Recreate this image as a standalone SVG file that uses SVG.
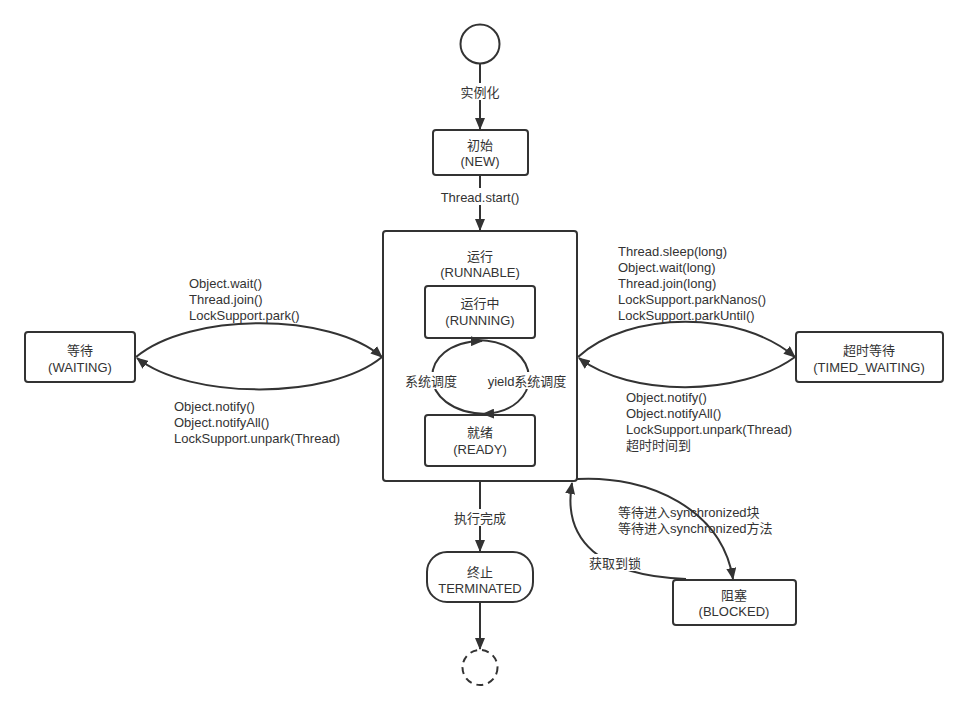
<svg xmlns="http://www.w3.org/2000/svg" width="969" height="710" viewBox="0 0 969 710">
<defs>
<marker id="arr" viewBox="0 0 12 10" refX="11" refY="5" markerWidth="12" markerHeight="10" markerUnits="userSpaceOnUse" orient="auto">
<path d="M0,0 L12,5 L0,10 Z" fill="#333"/>
</marker>
<style>
text{font-family:"Liberation Sans","Noto Sans CJK SC",sans-serif;font-size:13px;fill:#333}
.c{text-anchor:middle}
.box{fill:#fff;stroke:#333;stroke-width:2}
.ln{fill:none;stroke:#333;stroke-width:2}
.bg{fill:#fff}
</style>
</defs>
<rect width="969" height="710" fill="#fff"/>
<g id="start"><circle cx="480" cy="44" r="19.5" class="box"/></g>
<g id="new">
<rect class="box" x="433" y="130" width="95" height="45" rx="3"/>
<text class="c" x="480" y="150">初始</text>
<text class="c" x="480" y="166">(NEW)</text>
</g>
<g id="runnable">
<rect class="box" x="383" y="231" width="194" height="250" rx="3"/>
<text class="c" x="480" y="261">运行</text>
<text class="c" x="480" y="277">(RUNNABLE)</text>
</g>
<g id="running">
<rect class="box" x="425" y="286" width="110" height="52" rx="3"/>
<text class="c" x="480" y="308">运行中</text>
<text class="c" x="480" y="325">(RUNNING)</text>
</g>
<g id="ready">
<rect class="box" x="425" y="415" width="110" height="51" rx="3"/>
<text class="c" x="480" y="437">就绪</text>
<text class="c" x="480" y="454">(READY)</text>
</g>
<g id="waiting">
<rect class="box" x="25" y="332" width="110" height="50" rx="3"/>
<text class="c" x="80" y="355">等待</text>
<text class="c" x="80" y="372">(WAITING)</text>
</g>
<g id="timed-waiting">
<rect class="box" x="796" y="332" width="147" height="50" rx="3"/>
<text class="c" x="869" y="355">超时等待</text>
<text class="c" x="869" y="372">(TIMED_WAITING)</text>
</g>
<g id="terminated">
<rect class="box" x="427" y="552" width="106" height="50" rx="20"/>
<text class="c" x="480" y="577">终止</text>
<text class="c" x="480" y="593">TERMINATED</text>
</g>
<g id="end"><circle cx="480" cy="667.5" r="17.5" class="box" stroke-dasharray="7 5"/></g>
<g id="blocked">
<rect class="box" x="673" y="580" width="123" height="45" rx="3"/>
<text class="c" x="734" y="600">阻塞</text>
<text class="c" x="734" y="616">(BLOCKED)</text>
</g>
<g id="connectors">
<path class="ln" d="M480 64 L480 129" marker-end="url(#arr)"/>
<path class="ln" d="M480 175 L480 230" marker-end="url(#arr)"/>
<path class="ln" d="M136 357 C190 312 330 312 382 357" marker-end="url(#arr)"/>
<path class="ln" d="M382 357 C330 400 190 400 137 358" marker-end="url(#arr)"/>
<path class="ln" d="M578 357 C630 310 740 310 795 357" marker-end="url(#arr)"/>
<path class="ln" d="M795 357 C740 397 630 397 579 358" marker-end="url(#arr)"/>
<path class="ln" d="M486 414 C415 412 415 342 482 341" marker-end="url(#arr)"/>
<path class="ln" d="M478 340 C545 342 545 412 483 414" marker-end="url(#arr)"/>
<path class="ln" d="M480 482 L480 551" marker-end="url(#arr)"/>
<path class="ln" d="M480 603 L480 649" marker-end="url(#arr)"/>
<path class="ln" d="M577 479 C650 475 722 510 733 579" marker-end="url(#arr)"/>
<path class="ln" d="M686 579 C600 576 562 540 572 483" marker-end="url(#arr)"/>
</g>
<g id="labels">
<rect class="bg" x="457" y="83" width="46" height="17"/>
<text class="c" x="480" y="97">实例化</text>
<rect class="bg" x="436" y="188" width="88" height="17"/>
<text class="c" x="480" y="202">Thread.start()</text>
<text x="189" y="288">Object.wait()</text>
<text x="189" y="304">Thread.join()</text>
<text x="189" y="320">LockSupport.park()</text>
<text x="174" y="411">Object.notify()</text>
<text x="174" y="427">Object.notifyAll()</text>
<text x="174" y="443">LockSupport.unpark(Thread)</text>
<text x="618" y="256">Thread.sleep(long)</text>
<text x="618" y="272">Object.wait(long)</text>
<text x="618" y="288">Thread.join(long)</text>
<text x="618" y="304">LockSupport.parkNanos()</text>
<text x="618" y="320">LockSupport.parkUntil()</text>
<text x="626" y="402">Object.notify()</text>
<text x="626" y="418">Object.notifyAll()</text>
<text x="626" y="434">LockSupport.unpark(Thread)</text>
<text x="626" y="450">超时时间到</text>
<rect class="bg" x="403" y="372" width="56" height="17"/>
<text class="c" x="431" y="386">系统调度</text>
<rect class="bg" x="487" y="372" width="80" height="17"/>
<text class="c" x="527" y="386">yield系统调度</text>
<rect class="bg" x="450" y="509" width="60" height="17"/>
<text class="c" x="480" y="523">执行完成</text>
<text x="618" y="517">等待进入synchronized块</text>
<text x="618" y="533">等待进入synchronized方法</text>
<rect class="bg" x="587" y="554" width="56" height="17"/>
<text x="589" y="568">获取到锁</text>
</g>
</svg>
